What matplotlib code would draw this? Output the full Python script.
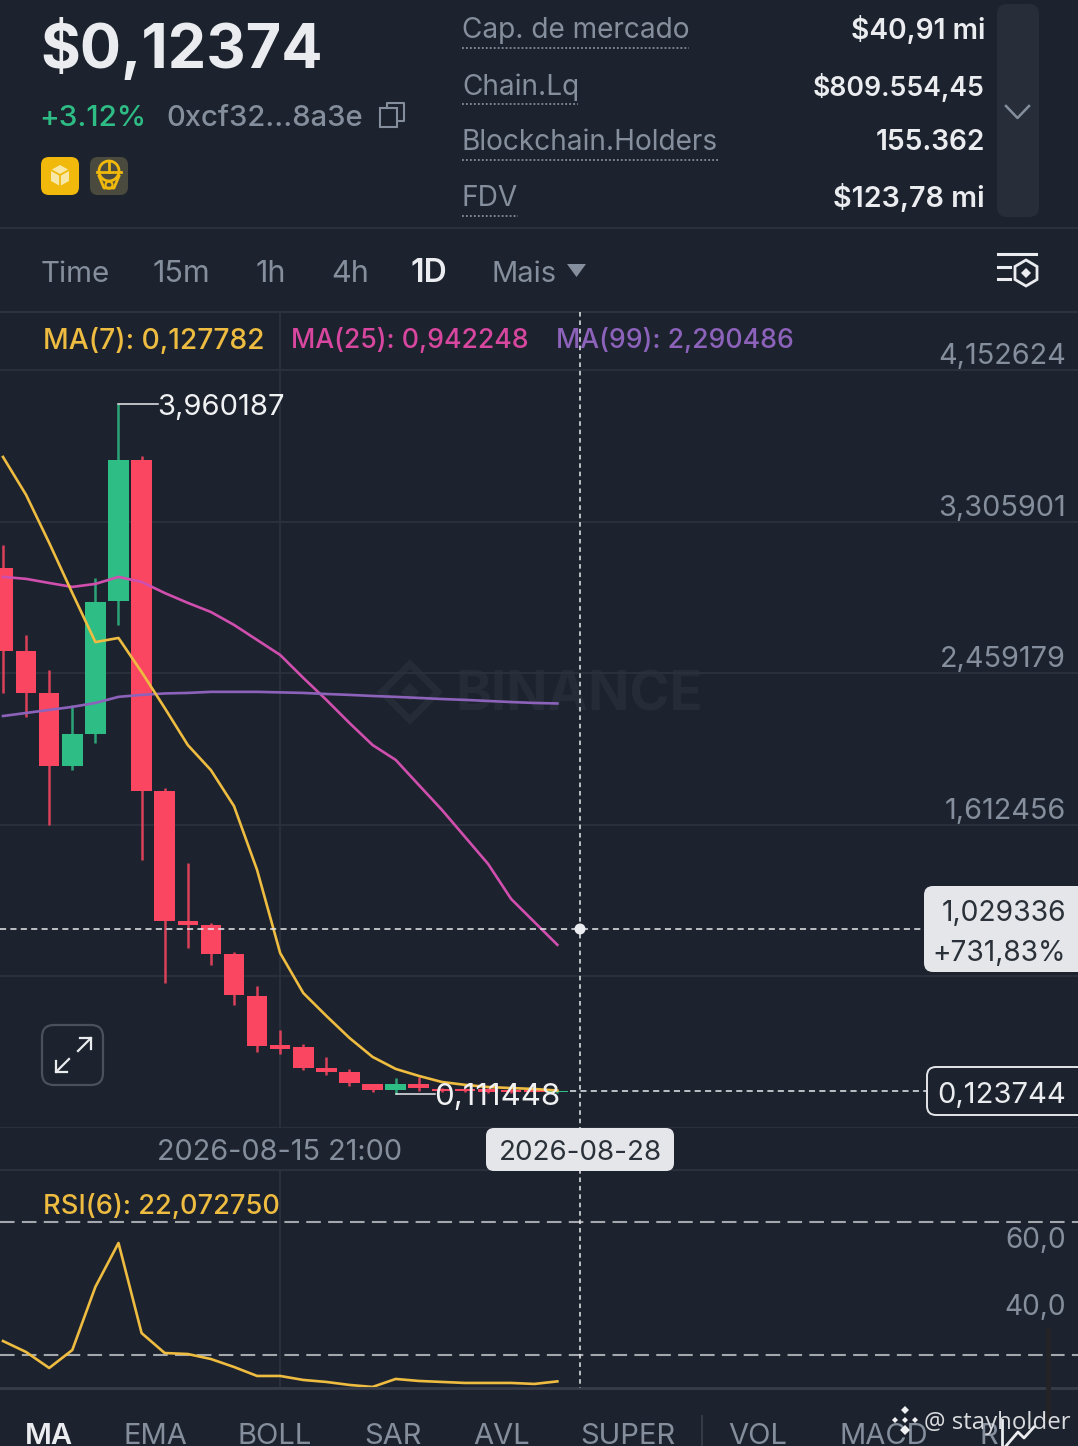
import matplotlib
matplotlib.use("Agg")
import matplotlib.pyplot as plt
from matplotlib.patches import FancyBboxPatch, Polygon, Circle, Rectangle
from matplotlib.lines import Line2D

plt.rcParams['font.family'] = ['Inter', 'DejaVu Sans']

# ---------- data ----------
opens  = [3.047,2.583,2.349,1.941,2.120,2.862,3.650,1.801,1.075,1.053,0.891,0.656,0.383,0.371,0.254,0.232,0.165,0.131,0.165,0.137,0.137,0.137,0.131,0.131,0.120]
closes = [2.583,2.349,1.941,2.120,2.857,3.650,1.801,1.075,1.053,0.891,0.662,0.377,0.360,0.254,0.232,0.170,0.131,0.165,0.142,0.126,0.126,0.120,0.120,0.120,0.124]
highs  = [3.175,2.673,2.477,2.282,2.991,3.960,3.672,1.818,1.399,1.064,0.902,0.712,0.466,0.388,0.316,0.249,0.165,0.198,0.204,0.142,0.142,0.142,0.137,0.137,0.131]
lows   = [2.349,2.215,1.611,1.918,2.069,2.728,1.416,0.729,0.924,0.829,0.606,0.343,0.332,0.243,0.215,0.154,0.120,0.111,0.126,0.120,0.120,0.115,0.115,0.115,0.115]
ma7    = [3.667,3.455,3.187,2.907,2.633,2.656,2.466,2.265,2.058,1.918,1.717,1.360,0.896,0.673,0.545,0.422,0.316,0.249,0.210,0.176,0.160,0.148,0.142,0.137,0.128]
ma25   = [2.997,2.986,2.963,2.941,2.958,2.997,2.969,2.907,2.852,2.801,2.729,2.645,2.561,2.433,2.310,2.181,2.058,1.975,1.835,1.696,1.545,1.394,1.198,1.070,0.942]
ma99   = [2.220,2.237,2.254,2.271,2.293,2.327,2.338,2.346,2.349,2.355,2.355,2.355,2.352,2.349,2.343,2.338,2.332,2.327,2.321,2.315,2.310,2.304,2.298,2.293,2.290]
rsi    = [34.2,30.9,26.1,31.5,50.5,63.7,36.6,30.6,30.3,28.8,26.4,23.7,23.7,22.5,21.9,21.0,20.4,22.8,22.2,21.9,21.6,21.6,21.6,21.3,22.07]
price_ticks = [4.152624,3.305901,2.459179,1.612456,0.765734,-0.080989]
price_labels = ['4,152624','3,305901','2,459179','1,612456','','']
rsi_ticks = [60.0,40.0]
rsi_labels = ['60,0','40,0']
rsi_bands = [70,30]
tabs = ['EMA','BOLL','SAR','AVL','SUPER','VOL','MACD','R']
tab_x = [123,238,364,473,580,728,840,979]
stats_names = ['Cap. de mercado','Chain.Lq','Blockchain.Holders','FDV']
stats_vals = ['$40,91 mi','$809.554,45','155.362','$123,78 mi']
stats_ul = [689,578,718,518]
stats_sz = [20.3,19.2,20.2,20.7]
times = ['15m','1h','4h']
times_x = [153,256,331]

BG='#1d232e'; GRID='#2d333e'; RED='#fb4661'; GREEN='#2ebd85'; YEL='#eebc40'
W,H=1078,1446
fig=plt.figure(figsize=(W/100,H/100),dpi=100,facecolor=BG)

def axpx(x0,y0,x1,y1,**k):
    return fig.add_axes([x0/W,1-y1/H,(x1-x0)/W,(y1-y0)/H],**k)

# ---------- watermark behind the chart ----------
w=axpx(0,0,W,H,facecolor='none'); w.set_xlim(0,W); w.set_ylim(H,0); w.axis('off'); w.set_zorder(0)
WM='#262c37'
w.add_patch(Polygon([(410,664),(438,692),(410,720),(382,692)],fc='none',ec=WM,lw=5))
w.add_patch(Polygon([(410,683),(419,692),(410,701),(401,692)],fc=WM,ec='none'))
w.text(455,696,'BINANCE',fontsize=39,color=WM,fontweight='bold',va='center')

# ---------- main price axes ----------
ax=axpx(0,312,W,1128,facecolor='none'); ax.set_zorder(1)
ax.set_xlim(-0.13,46.54); ax.set_ylim(-0.081,4.4765)
for s in ax.spines.values(): s.set_visible(False)
ax.set_xticks([12]); ax.set_yticks(price_ticks)
ax.tick_params(length=0,labelleft=False,labelbottom=False)
ax.grid(True,color=GRID,lw=1.2); ax.set_axisbelow(True)
x=list(range(len(opens)))
for i in x:
    c=GREEN if closes[i]>=opens[i] else RED
    ax.vlines(i,lows[i],highs[i],color=c,lw=1.8,alpha=.85,zorder=2)
    b=min(opens[i],closes[i]); h=abs(closes[i]-opens[i])
    ax.bar(i,h,bottom=b,width=.89,color=c,zorder=3)
ax.plot(x,ma25,color='#d04fae',lw=1.9,zorder=4)
ax.plot(x,ma99,color='#8d62bb',lw=1.9,zorder=4)
ax.plot(x,ma7,color=YEL,lw=1.9,zorder=5)
for v,l in zip(price_ticks,price_labels):
    if l: ax.annotate(l,(1,v),xycoords=('axes fraction','data'),xytext=(-12,0),textcoords='offset pixels',
                ha='right',va='bottom',color='#848e9c',fontsize=20.8)
# high / low leaders
ax.plot([5,6.7],[3.960,3.960],color='#e8eaed',lw=1.1,zorder=6)
ax.annotate('3,960187',(6.75,3.960),xytext=(-2,-3),textcoords='offset pixels',color='#f0f1f3',fontsize=21,va='center',zorder=7)
ax.plot([17,18.7],[0.111,0.111],color='#e8eaed',lw=1.1,zorder=6)
ax.annotate('0,111448',(18.75,0.111),xytext=(-2,-3),textcoords='offset pixels',color='#f0f1f3',fontsize=22.5,va='center',zorder=7)

# ---------- RSI axes ----------
ax2=axpx(0,1170,W,1388,facecolor='none'); ax2.set_zorder(1)
ax2.set_xlim(-0.13,46.54); ax2.set_ylim(20.08,85.64)
for s in ax2.spines.values(): s.set_visible(False)
ax2.set_xticks([12]); ax2.set_yticks(rsi_ticks)
ax2.tick_params(length=0,labelleft=False,labelbottom=False)
ax2.grid(True,axis='x',color=GRID,lw=1.2)
for b in rsi_bands:
    ax2.axhline(b,color='#a4a8ad',lw=1.5,dashes=(7,3.5))
ax2.plot(x,rsi,color=YEL,lw=1.9,zorder=4)
for v,l in zip(rsi_ticks,rsi_labels):
    ax2.annotate(l,(1,v),xycoords=('axes fraction','data'),xytext=(-12,1),textcoords='offset pixels',
                 ha='right',va='bottom',color='#848e9c',fontsize=20.2)

# ---------- overlay in pixels ----------
o=axpx(0,0,W,H,facecolor='none'); o.set_xlim(0,W); o.set_ylim(H,0); o.axis('off'); o.set_zorder(10)
def T(x,y,s,size=20,color='#848e9c',ha='left',va='center',**k):
    return o.text(x,y+6,s,fontsize=size,color=color,ha=ha,va=va,**k)
def box(x0,y0,x1,y1,r,fc,ec='none',lw=0,z=2):
    o.add_patch(FancyBboxPatch((x0+r,y0+r),x1-x0-2*r,y1-y0-2*r,boxstyle=f'round,pad={r}',fc=fc,ec=ec,lw=lw,zorder=z))
def L(xs,ys,c='#848e9c',lw=1.5,**k):
    o.add_line(Line2D(xs,ys,color=c,lw=lw,**k))

# header
T(40,43,'$0,12374',size=44,color='#eaecef',fontweight='bold')
T(39,112,'+3.12%',size=21.3,color='#2ebd85',fontweight='medium')
T(166,112,'0xcf32...8a3e',size=21,color='#848e9c',fontweight='medium')
o.add_patch(Rectangle((380,108),17,19,fc='none',ec='#848e9c',lw=1.5))
L([387,387,404,404,398],[108,103,103,121,121])
box(41,157,79,195,8,'#f0b90b')
box(90,157,128,195,8,'#4a4b3e')
o.add_patch(Polygon([(60,165),(69,170),(69,181),(60,186),(51,181),(51,170)],fc='#f8e8a8',ec='none',zorder=3))
L([51,60,69],[170,175,170],c='#f0b90b',lw=1.3,zorder=4); L([60,60],[175,186],c='#f0b90b',lw=1.3,zorder=4)
o.add_patch(Circle((109,171),10,fc='none',ec='#f0b90b',lw=2,zorder=3))
L([97,121],[172,172],c='#f0b90b',lw=2,zorder=3); L([109,109],[161,172],c='#f0b90b',lw=2,zorder=3)
L([99,104,114,119],[176,188,188,176],c='#f0b90b',lw=2,zorder=3)
o.add_patch(Circle((109,185),3.5,fc='none',ec='#f0b90b',lw=1.6,zorder=3))

# stats
for i,(n,v,u,z) in enumerate(zip(stats_names,stats_vals,stats_ul,stats_sz)):
    y=25+56*i
    T(462,y,n,size=20.2,color='#848e9c')
    T(985,y,v,size=z,color='#eaecef',ha='right',fontweight='semibold')
    L([462,u],[y+23,y+23],c='#848e9c',lw=1.3,dashes=(1,1.2))
box(997,4,1039,217,10,'#272e39')
L([1006,1017.5,1029],[106,118,106],lw=1.8)

# separators
L([0,W],[228,228],c=GRID,lw=1.3)
L([0,W],[312,312],c=GRID,lw=1.6)
L([0,W],[1170,1170],c=GRID,lw=1.3)
L([0,W],[1388,1388],c='#363c48',lw=2)

# interval row
T(41,268,'Time',size=21.3)
for s,xx in zip(times,times_x): T(xx,268,s,size=22)
T(410,268,'1D',size=23,color='#eaecef',fontweight='semibold')
T(491,268,'Mais',size=21)
o.add_patch(Polygon([(567,264),(586,264),(576.5,277)],fc='#848e9c',ec='none'))
L([998,1036],[254,254],c='#eaecef',lw=2.2)
L([998,1010],[267,267],c='#eaecef',lw=2.2)
L([998,1010],[279,279],c='#eaecef',lw=2.2)
o.add_patch(Polygon([(1026,260),(1037,266.5),(1037,279.5),(1026,286),(1015,279.5),(1015,266.5)],fc=BG,ec='#eaecef',lw=2,zorder=3))
o.add_patch(Polygon([(1026,268),(1031,273),(1026,278),(1021,273)],fc='#eaecef',ec='none',zorder=4))

# MA legend
T(43,335,'MA(7): 0,127782',size=20.3,color=YEL,fontweight='medium')
T(291,335,'MA(25): 0,942248',size=19.2,color='#d8479f',fontweight='medium')
T(556,335,'MA(99): 2,290486',size=19.2,color='#8d62bb',fontweight='medium')
T(43,1201,'RSI(6): 22,072750',size=19.6,color=YEL,fontweight='medium')

# crosshair
L([580,580],[312,1388],c='#e8eaed',lw=1.1,dashes=(3,2.5),zorder=6)
L([0,924],[929,929],c='#e8eaed',lw=1.1,dashes=(4,2.8),zorder=6)
L([570,927],[1091,1091],c='#e8eaed',lw=1.1,dashes=(4,2.8),zorder=6)
o.add_patch(Circle((580,929),5.5,fc='#eaecef',ec='none',zorder=7))
box(924,886,1090,972,9,'#e4e6ea',z=8)
T(1066,908,'1,029336',size=20.4,color='#2b3139',ha='right',zorder=9)
T(1066,947,'+731,83%',size=20.2,color='#2b3139',ha='right',zorder=9)
box(927,1067,1090,1115,9,BG,ec='#e4e6ea',lw=1.4,z=8)
T(1066,1089,'0,123744',size=21,color='#eaecef',ha='right',zorder=9)
T(280,1147,'2026-08-15 21:00',size=20.8,ha='center')
box(486,1128,674,1171,8,'#e4e6ea',z=8)
T(580,1147,'2026-08-28',size=20,color='#2b3139',ha='center',zorder=9)

# expand button
box(42,1025,103,1085,12,'none',ec='#4a505c',lw=1.6)
L([56,69],[1072,1059],c='#eaecef',lw=1.6); L([56,56,67],[1061,1072,1072],c='#eaecef',lw=1.6)
L([78,91],[1051,1038],c='#eaecef',lw=1.6); L([80,91,91],[1038,1038,1049],c='#eaecef',lw=1.6)

# tabs
T(25,1430,'MA',size=21,color='#eaecef',fontweight='semibold')
for s,xx in zip(tabs,tab_x): T(xx,1430,s,size=21)
L([702,702],[1416,1446],c='#363c48',lw=1.4)

# footer watermark
L([1048,1048],[1330,1420],c='#242426',lw=3.5,zorder=5)
for dx,dy,r in [(0,-10,4),(-10,0,3),(10,0,3),(0,0,3),(0,10,5)]:
    o.add_patch(Polygon([(905+dx,1420+dy-r),(905+dx+r,1420+dy),(905+dx,1420+dy+r),(905+dx-r,1420+dy)],fc='#f0f1f3',ec='none',zorder=9))
T(924,1417,'@ stayholder',size=17.3,color='#d9dbde',family='Open Sans',zorder=9)
L([1002,1002],[1420,1446],c='#eaecef',lw=2,zorder=9)
L([1006,1018,1024,1034],[1446,1432,1438,1427],c='#eaecef',lw=2,zorder=9)

fig.savefig('out.png',dpi=100,facecolor=BG)
